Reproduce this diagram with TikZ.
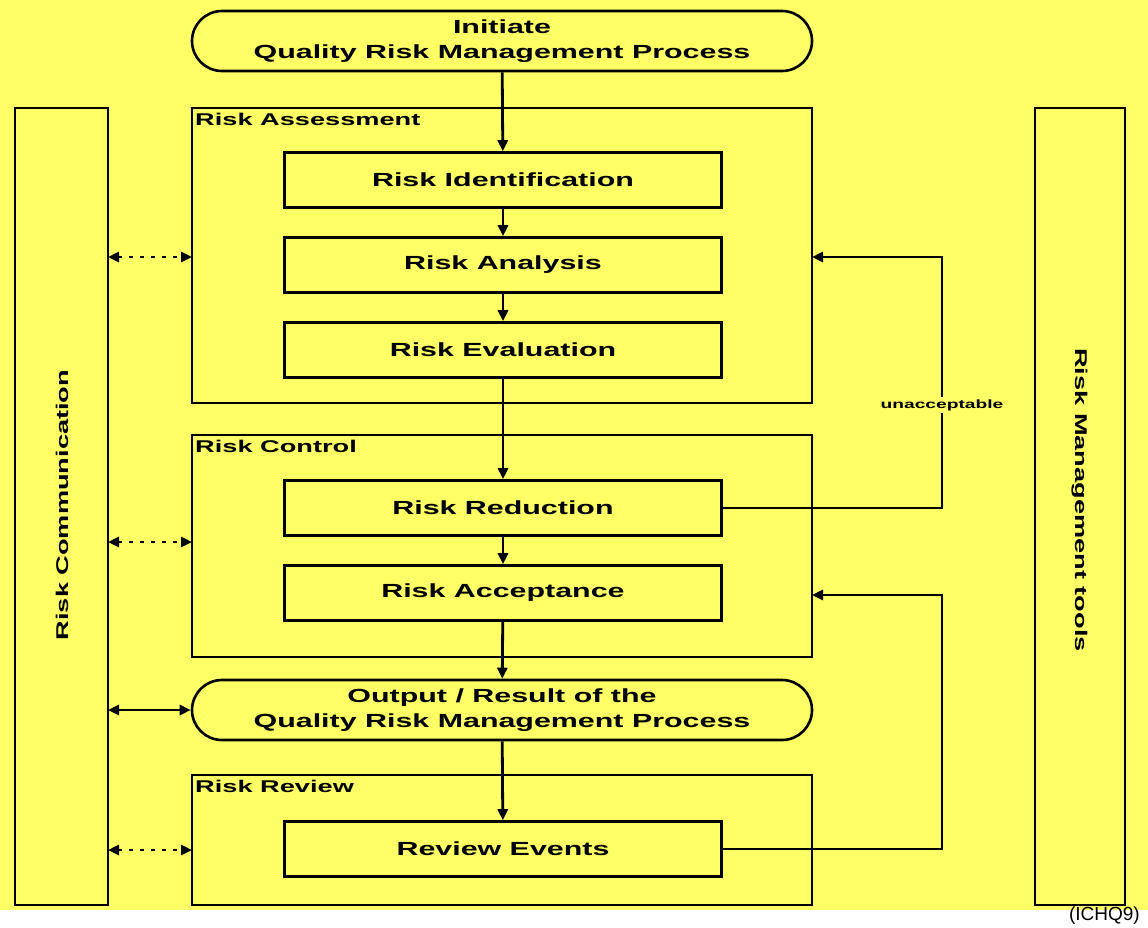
\documentclass[tikz,border=0pt]{standalone}
\usepackage{fontspec}
\setmainfont{Liberation Sans}
\newfontfamily\wide[FakeStretch=1.6]{Liberation Sans}
\usetikzlibrary{arrows.meta}
\definecolor{bgy}{HTML}{FFFF66}
\tikzset{
  conn/.style={line width=2.8pt},
  box/.style={draw,line width=2.6pt,minimum width=437pt,minimum height=55pt,font=\wide\bfseries\fontsize{19}{22}\selectfont},
  term/.style={draw,line width=2.6pt,rounded corners=30pt,minimum width=620pt,minimum height=60pt,align=center,font=\wide\bfseries\fontsize{19}{25}\selectfont},
  grpframe/.style={draw,line width=2.8pt},
  lab/.style={font=\wide\bfseries\fontsize{17}{20}\selectfont,anchor=north west,inner sep=3pt},
  arr/.style={conn,-{Triangle[length=11pt,width=10pt]}},
  darr/.style={conn,{Triangle[length=11pt,width=10pt]}-{Triangle[length=11pt,width=10pt]}},
}
\begin{document}
\begin{tikzpicture}[x=1pt,y=-1pt]
\useasboundingbox (0,0) rectangle (1148,927);
\fill[bgy] (0,0) rectangle (1148,910);
\node[anchor=south east,font=\fontsize{19}{20}\selectfont\rmfamily,inner sep=0pt] (cite) at (1140,925) {(ICHQ9)};
% side bars
\draw[grpframe] (15,108) rectangle (108,905);
\node[rotate=90,font=\wide\bfseries\fontsize{17}{20}\selectfont] (rc) at (62,505) {Risk Communication};
\draw[grpframe] (1035,108) rectangle (1125,905);
\node[rotate=-90,font=\wide\bfseries\fontsize{17}{20}\selectfont] (rmt) at (1080,500) {Risk Management tools};
% group frames
\draw[grpframe] (192,108) rectangle (812,403);
\node[lab] (la) at (192,110) {Risk Assessment};
\draw[grpframe] (192,435) rectangle (812,657);
\node[lab] (lc) at (192,437) {Risk Control};
\draw[grpframe] (192,775) rectangle (812,905);
\node[lab] (lr) at (192,777) {Risk Review};
% nodes
\node[term] (init) at (502,41) {Initiate\\Quality Risk Management Process};
\node[box] (id) at (503,180) {Risk Identification};
\node[box] (an) at (503,265) {Risk Analysis};
\node[box] (ev) at (503,350) {Risk Evaluation};
\node[box] (red) at (503,508) {Risk Reduction};
\node[box] (acc) at (503,593) {Risk Acceptance};
\node[term] (out) at (502,710) {Output / Result of the\\Quality Risk Management Process};
\node[box] (rev) at (503,849) {Review Events};
% main flow
\draw[arr] (init) -- (id);
\draw[arr] (id) -- (an);
\draw[arr] (an) -- (ev);
\draw[arr] (ev) -- (red);
\draw[arr] (red) -- (acc);
\draw[arr] (acc) -- (out);
\draw[arr] (out) -- (rev);
% feedback
\coordinate (fa) at (812,257);
\coordinate (fb) at (812,595);
\draw[arr] (red.east) -- (942,508) -- (942,257) -- (fa);
\node[fill=bgy,font=\wide\bfseries\fontsize{12}{14}\selectfont,inner sep=2pt] (un) at (942,405) {unacceptable};
\draw[arr] (rev.east) -- (942,849) -- (942,595) -- (fb);
% left communication arrows
\coordinate (l1) at (108,257); \coordinate (r1) at (192,257);
\coordinate (l2) at (108,542); \coordinate (r2) at (192,542);
\coordinate (l3) at (108,710);
\coordinate (l4) at (108,850); \coordinate (r4) at (192,850);
\draw[darr,dash pattern=on 4pt off 7pt] (l1) -- (r1);
\draw[darr,dash pattern=on 4pt off 7pt] (l2) -- (r2);
\draw[darr] (l3) -- (out.west);
\draw[darr,dash pattern=on 4pt off 7pt] (l4) -- (r4);
\end{tikzpicture}
\end{document}
